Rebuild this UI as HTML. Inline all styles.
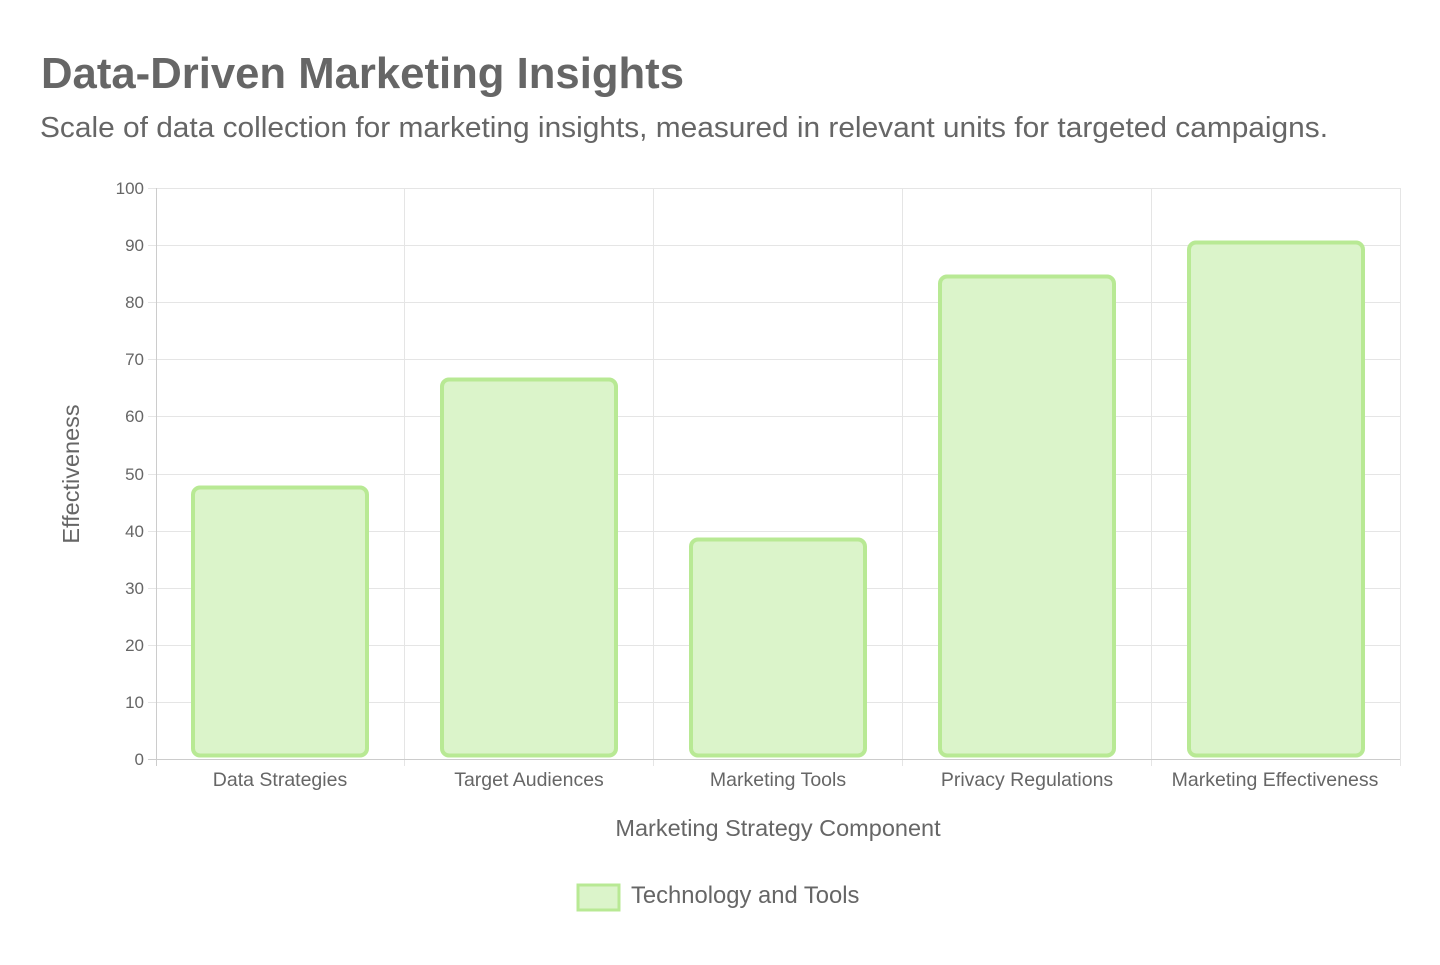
<!DOCTYPE html>
<html><head><meta charset="utf-8"><style>
body{margin:0;background:#fff;width:1440px;height:960px;overflow:hidden;font-family:"Liberation Sans",Arial,sans-serif}
</style></head><body>
<svg width="1440" height="960" xmlns="http://www.w3.org/2000/svg" font-family="Liberation Sans, Arial, sans-serif">
<text x="41" y="88" font-size="44" font-weight="bold" fill="#666" textLength="643" lengthAdjust="spacingAndGlyphs">Data-Driven Marketing Insights</text>
<text x="40" y="137" font-size="29" fill="#666" textLength="1288" lengthAdjust="spacingAndGlyphs">Scale of data collection for marketing insights, measured in relevant units for targeted campaigns.</text>
<g stroke="#e5e5e5" stroke-width="1">
<line x1="148" y1="188.5" x2="1400" y2="188.5"/>
<line x1="148" y1="245.5" x2="1400" y2="245.5"/>
<line x1="148" y1="302.5" x2="1400" y2="302.5"/>
<line x1="148" y1="359.5" x2="1400" y2="359.5"/>
<line x1="148" y1="416.5" x2="1400" y2="416.5"/>
<line x1="148" y1="474.5" x2="1400" y2="474.5"/>
<line x1="148" y1="531.5" x2="1400" y2="531.5"/>
<line x1="148" y1="588.5" x2="1400" y2="588.5"/>
<line x1="148" y1="645.5" x2="1400" y2="645.5"/>
<line x1="148" y1="702.5" x2="1400" y2="702.5"/>
<line x1="404.5" y1="188" x2="404.5" y2="766"/>
<line x1="653.5" y1="188" x2="653.5" y2="766"/>
<line x1="902.5" y1="188" x2="902.5" y2="766"/>
<line x1="1151.5" y1="188" x2="1151.5" y2="766"/>
<line x1="1400.5" y1="188" x2="1400.5" y2="766"/>
</g>
<g stroke="#ccc"><line x1="156.5" y1="188" x2="156.5" y2="766"/><line x1="148" y1="759.5" x2="1400" y2="759.5"/></g>
<g font-size="17" fill="#666" text-anchor="end">
<text x="144" y="194">100</text><text x="144" y="251">90</text><text x="144" y="308">80</text><text x="144" y="365">70</text><text x="144" y="422">60</text><text x="144" y="480">50</text><text x="144" y="537">40</text><text x="144" y="594">30</text><text x="144" y="651">20</text><text x="144" y="708">10</text><text x="144" y="765">0</text>
</g>
<g fill="#dbf4ca" stroke="#b8e994" stroke-width="4">
<rect x="193" y="487.5" width="174" height="268" rx="7"/>
<rect x="442" y="379.5" width="174" height="376" rx="7"/>
<rect x="691" y="539.5" width="174" height="216" rx="7"/>
<rect x="940" y="276.5" width="174" height="479" rx="7"/>
<rect x="1189" y="242.5" width="174" height="513" rx="7"/>
</g>
<g font-size="19.5" fill="#666" text-anchor="middle">
<text x="280" y="786">Data Strategies</text>
<text x="529" y="786">Target Audiences</text>
<text x="778" y="786">Marketing Tools</text>
<text x="1027" y="786">Privacy Regulations</text>
<text x="1275" y="786">Marketing Effectiveness</text>
</g>
<text x="778" y="836" font-size="23.5" fill="#666" text-anchor="middle">Marketing Strategy Component</text>
<text transform="translate(79,474) rotate(-90)" font-size="23.5" fill="#666" text-anchor="middle">Effectiveness</text>
<rect x="578" y="885" width="41" height="25" fill="#dbf4ca" stroke="#b8e994" stroke-width="3"/>
<text x="631" y="903" font-size="23.8" fill="#666">Technology and Tools</text>
</svg>
</body></html>
